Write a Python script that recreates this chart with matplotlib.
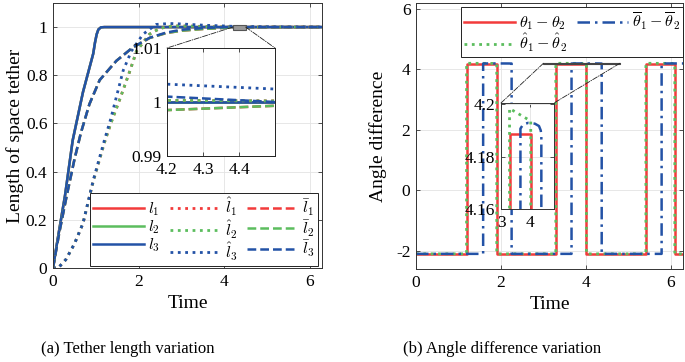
import numpy as np
import matplotlib
matplotlib.use('Agg')
import matplotlib.pyplot as plt
from matplotlib.patches import Rectangle, ConnectionPatch

plt.rcParams['font.family'] = 'serif'
plt.rcParams['font.serif'] = ['Liberation Serif', 'DejaVu Serif']
plt.rcParams['mathtext.fontset'] = 'cm'
plt.rcParams['axes.unicode_minus'] = False

RED = '#f23b3b'
GREEN = '#5cbd5e'
BLUE = '#2352a6'

TWO_PI = 2 * np.pi

# ---- (a) tether length ----
t_l = [0, 0.1, 0.28, 0.46, 0.7, 0.94, 0.98, 1.02, 1.06, 1.12, 1.2, 4.2, 4.5, TWO_PI]
l_true = [0, 0.11, 0.3, 0.53, 0.73, 0.89, 0.935, 0.97, 0.99, 0.999, 1.0, 1.0, 1.0, 1.0]

t_lhat3 = [0, 0.12, 0.3, 0.5, 0.7, 0.94, 1.2, 1.35, 1.48, 1.64, 1.83, 2.1, 2.41, 2.72, 3.0, 3.5, 4.2, 4.5, 5.2, TWO_PI]
lhat3 = [0, 0, 0.035, 0.1, 0.185, 0.364, 0.53, 0.62, 0.71, 0.82, 0.9, 0.97, 1.011, 1.015, 1.013, 1.008, 1.0033, 1.0024, 1.0012, 1.0005]
t_lhat2 = [0, 0.12, 0.3, 0.5, 0.7, 0.94, 1.2, 1.35, 1.58, 1.8, 1.95, 2.25, 2.5, 2.8, 3.2, 3.8, 4.2, 4.5, 5.2, TWO_PI]
lhat2 = [0, 0, 0.035, 0.1, 0.185, 0.36, 0.52, 0.6, 0.71, 0.82, 0.9, 0.97, 0.995, 1.005, 1.004, 1.001, 1.0003, 1.0002, 1.0001, 1.0]

t_lbar = [0, 0.15, 0.32, 0.5, 0.65, 0.85, 1.09, 1.48, 1.86, 2.26, 2.64, 3.0, 3.5, 4.2, 4.5, 5.2, TWO_PI]
lbar3 = [0, 0.15, 0.3, 0.45, 0.56, 0.68, 0.78, 0.86, 0.915, 0.956, 0.977, 0.989, 0.996, 1.001, 1.0, 1.0, 1.0]
lbar2 = [0, 0.15, 0.3, 0.45, 0.56, 0.68, 0.78, 0.86, 0.915, 0.955, 0.975, 0.985, 0.992, 0.9985, 0.9993, 0.9998, 1.0]

# ---- (b) angle difference ----
HI = 4 * np.pi / 3
LO = -2 * np.pi / 3
t_th = [0, 1.19, 1.19, 1.90, 1.90, 3.29, 3.29, 4.01, 4.01, 5.41, 5.41, 6.09, 6.09, TWO_PI]
th = [LO, LO, HI, HI, LO, LO, HI, HI, LO, LO, HI, HI, LO, LO]
th_hat = [LO, LO, 4.1984, 4.1936, LO, LO, 4.1984, 4.1936, LO, LO, 4.1984, 4.1936, LO, LO]
t_thbar = [0, 1.58, 1.58, 1.66, 1.92, 2.17, 2.25, 2.25, 3.66, 3.66, 3.75, 3.92, 4.15, 4.29, 4.35, 4.37, 4.37,
           5.78, 5.78, 5.86, 6.1, TWO_PI]
thbar = [LO, LO, 4.1907, 4.1923, 4.1929, 4.1917, 4.19, LO, LO, 4.1907, 4.1923, 4.1929, 4.1926, 4.1917, 4.19, 4.188, LO,
         LO, 4.1907, 4.1923, 4.1929, 4.1926]


def style_axes(ax, fs=12.5):
    ax.grid(True, color='#e3e3e3', lw=0.6)
    ax.set_axisbelow(True)
    ax.tick_params(direction='in', top=True, right=True, labelsize=fs, length=3, width=0.6, color='#333333',
                   pad=4)
    for s in ax.spines.values():
        s.set_color('#333333')
        s.set_linewidth(0.7)


W, H = 685, 362
fig = plt.figure(figsize=(6.85, 3.62), dpi=100)


def fr(x0, y0, x1, y1):
    return [x0 / W, 1 - y1 / H, (x1 - x0) / W, (y1 - y0) / H]


def draw_lengths(ax):
    h = []
    h.append(ax.plot(t_l, l_true, color=RED, lw=1.8)[0])
    h.append(ax.plot(t_l, l_true, color=GREEN, lw=1.8)[0])
    h.append(ax.plot(t_l, l_true, color=BLUE, lw=1.8)[0])
    h.append(ax.plot(t_lhat2, lhat2, color=RED, lw=2, ls=':')[0])
    h.append(ax.plot(t_lhat2, lhat2, color=GREEN, lw=2, ls=':')[0])
    h.append(ax.plot(t_lhat3, lhat3, color=BLUE, lw=2, ls=':')[0])
    h.append(ax.plot(t_lbar, lbar2, color=RED, lw=1.8, dashes=(3.5, 1.6))[0])
    h.append(ax.plot(t_lbar, lbar2, color=GREEN, lw=1.8, dashes=(3.5, 1.6))[0])
    h.append(ax.plot(t_lbar, lbar3, color=BLUE, lw=1.8, dashes=(3.5, 1.6))[0])
    return h


def draw_angles(ax):
    h1 = ax.plot(t_th, th, color=RED, lw=1.8)[0]
    h2 = ax.plot(t_th, th_hat, color=GREEN, lw=2, ls=':')[0]
    h3 = ax.plot(t_thbar, thbar, color=BLUE, lw=1.8, dashes=(5, 2, 1, 2))[0]
    return h1, h2, h3


leg_kw = dict(fontsize=11.5, handlelength=3.2, columnspacing=0.6, handletextpad=0.25, labelspacing=0.0,
              fancybox=False, framealpha=1, edgecolor='#222222', borderpad=0.2, borderaxespad=0)

# (a)
ax1 = fig.add_axes(fr(53, 3, 322, 268))
style_axes(ax1)
hs = draw_lengths(ax1)
ax1.set_xlim(0, TWO_PI)
ax1.set_ylim(0, 1.1)
ax1.set_xticks([0, 2, 4, 6])
ax1.set_yticks([0, 0.2, 0.4, 0.6, 0.8, 1])
ax1.set_yticklabels(['0', '0.2', '0.4', '0.6', '0.8', '1'])
ax1.set_xlabel('Time', fontsize=14)
ax1.set_ylabel('Length of space tether', fontsize=14)
ax1.xaxis.set_label_coords(0.5, -0.1)
ax1.yaxis.set_label_coords(-0.108, 0.5)
labels = [r'$l_1$', r'$l_2$', r'$l_3$', r'$\hat{l}_1$', r'$\hat{l}_2$', r'$\hat{l}_3$',
          r'$\bar{l}_1$', r'$\bar{l}_2$', r'$\bar{l}_3$']
leg = ax1.legend(hs, labels, ncol=3, loc='lower right', bbox_to_anchor=(0.985, 0.008), **leg_kw)
leg.get_frame().set_linewidth(0.7)
ax1.add_patch(Rectangle((4.2, 0.99), 0.3, 0.02, facecolor='#999999', edgecolor='#555555', lw=0.8, zorder=5))

axin1 = fig.add_axes(fr(167, 48, 275, 156))
style_axes(axin1)
axin1.set_facecolor('white')
draw_lengths(axin1)
axin1.set_xlim(4.2, 4.5)
axin1.set_ylim(0.99, 1.01)
axin1.set_xticks([4.2, 4.3, 4.4])
axin1.set_yticks([0.99, 1, 1.01])
axin1.set_yticklabels(['0.99', '1', '1.01'])
for spine in axin1.spines.values():
    spine.set_color('#222222')
for xa, xb in [((4.2, 1.0), (0, 1)), ((4.5, 1.0), (1, 1))]:
    fig.add_artist(ConnectionPatch(xyA=xa, coordsA=ax1.transData, xyB=xb, coordsB=axin1.transAxes,
                                   color='#222222', lw=0.6, ls='-.'))

# (b)
ax2 = fig.add_axes(fr(416, 3, 683, 269))
style_axes(ax2)
h1, h2, h3 = draw_angles(ax2)
ax2.set_xlim(0, TWO_PI)
ax2.set_ylim(LO - 0.5, HI + 2)
ax2.set_xticks([0, 2, 4, 6])
ax2.set_yticks([-2, 0, 2, 4, 6])
ax2.set_xlabel('Time', fontsize=14)
ax2.set_ylabel('Angle difference', fontsize=14)
ax2.xaxis.set_label_coords(0.5, -0.1)
ax2.yaxis.set_label_coords(-0.108, 0.5)
leg2 = ax2.legend([h1, h2, h3], [r'$\theta_1-\theta_2$', r'$\hat{\theta}_1-\hat{\theta}_2$',
                                  r'$\overline{\theta}_1-\overline{\theta}_2$'],
                  ncol=2, loc='upper right', bbox_to_anchor=(1.0, 0.985), **leg_kw)
leg2.get_frame().set_linewidth(0.7)
ax2.add_patch(Rectangle((3.0, 4.16), 1.8, 0.0405, facecolor='#777777', edgecolor='#444444', lw=0.8, zorder=5))

axin2 = fig.add_axes(fr(501, 103, 554, 209))
style_axes(axin2)
axin2.set_facecolor('white')
draw_angles(axin2)
axin2.set_xlim(3.0, 4.8)
axin2.set_ylim(4.16, 4.2005)
axin2.set_xticks([3, 4])
axin2.set_yticks([4.16, 4.18, 4.2])
axin2.set_yticklabels(['4.16', '4.18', '4.2'])
for xa, xb in [((3.0, 4.2), (0, 1)), ((4.8, 4.2), (1, 1))]:
    fig.add_artist(ConnectionPatch(xyA=xa, coordsA=ax2.transData, xyB=xb, coordsB=axin2.transAxes,
                                   color='#222222', lw=0.6, ls='-.'))

fig.text(128 / W, 1 - 349 / H, '(a) Tether length variation', ha='center', va='center', fontsize=12)
fig.text(502 / W, 1 - 349 / H, '(b) Angle difference variation', ha='center', va='center', fontsize=12)

fig.savefig('out.png', dpi=100)
